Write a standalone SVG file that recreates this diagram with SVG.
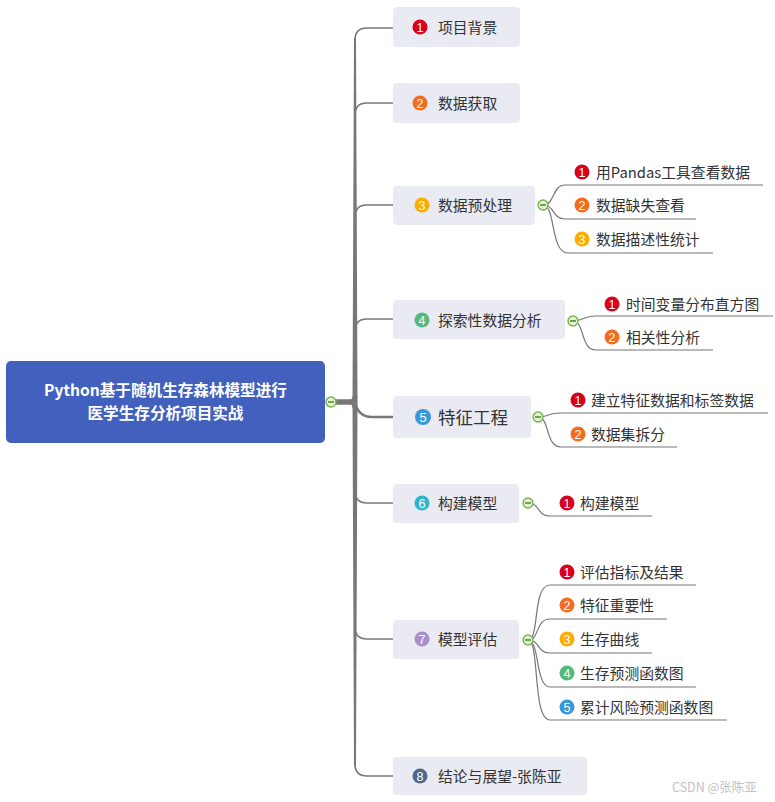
<svg xmlns="http://www.w3.org/2000/svg" width="775" height="802" viewBox="0 0 775 802">
<style>
text{font-family:"Noto Sans CJK SC","Microsoft YaHei",sans-serif;}
.node{fill:#E9EAF2;}
.lbl{font-size:14.8px;fill:#333;}
.num{font-size:12.5px;fill:#fff;text-anchor:middle;font-family:"Liberation Sans",Arial,sans-serif;}
.br{fill:none;stroke:#777;stroke-width:1.6;}
.sub{fill:none;stroke:#777;stroke-width:1.2;}
.col circle{fill:#E4F1D6;stroke:#78B347;stroke-width:1.4;}
.col line{stroke:#3E7E22;stroke-width:1.4;}
</style>
<rect width="775" height="802" fill="#fff"/>
<g id="connectors">
  <polygon points="352.5,402 357.5,402 356,38 354,38" fill="#777"/>
  <polygon points="352.5,402 357.5,402 356,766 354,766" fill="#777"/>
  <path d="M336 402 H350 Q355 402 355 396" fill="none" stroke="#777" stroke-width="5"/>
  <path d="M336 402 H350 Q355 402 355 408" fill="none" stroke="#777" stroke-width="5"/>
  <path class="br" d="M355 40 Q355 28 367 28 H393"/>
  <path class="br" d="M355 115 Q355 103 367 103 H393"/>
  <path class="br" d="M355 217 Q355 205 367 205 H393"/>
  <path class="br" d="M355 331 Q355 319 367 319 H393"/>
  <path d="M355 402 Q358 417 372 417 H393" fill="none" stroke="#777" stroke-width="2.4"/>
  <path class="br" d="M355 491 Q355 503 367 503 H393"/>
  <path class="br" d="M355 627 Q355 639 367 639 H393"/>
  <path class="br" d="M355 764 Q355 776 367 776 H393"/>
  <path class="sub" d="M543 205 C555 205 552 185 565 185 H763"/>
  <path class="sub" d="M543 205 C555 205 552 219 565 219 H696"/>
  <path class="sub" d="M543 205 C556 205 550 253 568 253 H713"/>
  <path class="sub" d="M573 321 C585 321 582 316 595 316 H773"/>
  <path class="sub" d="M573 321 C585 321 580 350 596 350 H713"/>
  <path class="sub" d="M538 417 C550 417 547 413 560 413 H768"/>
  <path class="sub" d="M538 417 C550 417 545 447 561 447 H677"/>
  <path class="sub" d="M528 503 C540 503 537 516 550 516 H652"/>
  <path class="sub" d="M528 640 C540 640 532 585 550 585 H696"/>
  <path class="sub" d="M528 640 C540 640 535 619 550 619 H667"/>
  <path class="sub" d="M528 640 C540 640 537 653 550 653 H652"/>
  <path class="sub" d="M528 640 C540 640 535 687 550 687 H696"/>
  <path class="sub" d="M528 640 C540 640 532 720 550 720 H727"/>
</g>
<g id="root">
  <rect x="6" y="361" width="319" height="82" rx="5" fill="#4261BE"/>
  <text x="165.5" y="396" text-anchor="middle" font-size="15.6" font-weight="bold" fill="#fff">Python基于随机生存森林模型进行</text>
  <text x="165.5" y="419" text-anchor="middle" font-size="15.6" font-weight="bold" fill="#fff">医学生存分析项目实战</text>
  <g class="col"><circle cx="331" cy="402" r="5"/><line x1="328" y1="402" x2="334" y2="402"/></g>
</g>
<g id="n1">
  <rect class="node" x="393" y="7" width="127" height="40" rx="4"/>
  <circle cx="420" cy="27" r="7.5" fill="#D9001B"/><text class="num" x="420" y="31.5">1</text>
  <text class="lbl" x="438" y="32.5">项目背景</text>
</g>
<g id="n2">
  <rect class="node" x="393" y="83" width="127" height="40" rx="4"/>
  <circle cx="420" cy="103" r="7.5" fill="#F46C1F"/><text class="num" x="420" y="107.5">2</text>
  <text class="lbl" x="438" y="108.5">数据获取</text>
</g>
<g id="n3">
  <rect class="node" x="393" y="186" width="142" height="39" rx="4"/>
  <circle cx="422" cy="205" r="7.5" fill="#FFAB00"/><text class="num" x="422" y="209.5">3</text>
  <text class="lbl" x="438" y="210.5">数据预处理</text>
  <g class="col"><circle cx="543" cy="205" r="5"/><line x1="540" y1="205" x2="546" y2="205"/></g>
</g>
<g id="n3a">
  <circle cx="582" cy="172" r="7.5" fill="#D9001B"/><text class="num" x="582" y="176.5">1</text>
  <text class="lbl" x="596" y="177.5">用Pandas工具查看数据</text>
</g>
<g id="n3b">
  <circle cx="582" cy="205" r="7.5" fill="#F46C1F"/><text class="num" x="582" y="209.5">2</text>
  <text class="lbl" x="596" y="210.5">数据缺失查看</text>
</g>
<g id="n3c">
  <circle cx="582" cy="239" r="7.5" fill="#FFAB00"/><text class="num" x="582" y="243.5">3</text>
  <text class="lbl" x="596" y="244.5">数据描述性统计</text>
</g>
<g id="n4">
  <rect class="node" x="393" y="300" width="172" height="39" rx="4"/>
  <circle cx="422" cy="320" r="7.5" fill="#55B97C"/><text class="num" x="422" y="324.5">4</text>
  <text class="lbl" x="438" y="325.5">探索性数据分析</text>
  <g class="col"><circle cx="573" cy="321" r="5"/><line x1="570" y1="321" x2="576" y2="321"/></g>
</g>
<g id="n4a">
  <circle cx="612" cy="304" r="7.5" fill="#D9001B"/><text class="num" x="612" y="308.5">1</text>
  <text class="lbl" x="626" y="309.5">时间变量分布直方图</text>
</g>
<g id="n4b">
  <circle cx="612" cy="337" r="7.5" fill="#F46C1F"/><text class="num" x="612" y="341.5">2</text>
  <text class="lbl" x="626" y="342.5">相关性分析</text>
</g>
<g id="n5">
  <rect class="node" x="393" y="396" width="138" height="42" rx="4"/>
  <circle cx="423" cy="417" r="8" fill="#3A96DA"/><text class="num" x="423" y="421.5" style="font-size:13px">5</text>
  <text class="lbl" x="438" y="423.5" style="font-size:17.5px">特征工程</text>
  <g class="col"><circle cx="538" cy="417" r="5"/><line x1="535" y1="417" x2="541" y2="417"/></g>
</g>
<g id="n5a">
  <circle cx="578" cy="400" r="7.5" fill="#D9001B"/><text class="num" x="578" y="404.5">1</text>
  <text class="lbl" x="591" y="405.5">建立特征数据和标签数据</text>
</g>
<g id="n5b">
  <circle cx="578" cy="434" r="7.5" fill="#F46C1F"/><text class="num" x="578" y="438.5">2</text>
  <text class="lbl" x="591" y="439.5">数据集拆分</text>
</g>
<g id="n6">
  <rect class="node" x="393" y="484" width="126" height="39" rx="4"/>
  <circle cx="422" cy="503" r="7.5" fill="#2DB5CF"/><text class="num" x="422" y="507.5">6</text>
  <text class="lbl" x="438" y="508.5">构建模型</text>
  <g class="col"><circle cx="528" cy="503" r="5"/><line x1="525" y1="503" x2="531" y2="503"/></g>
</g>
<g id="n6a">
  <circle cx="567" cy="503" r="7.5" fill="#D9001B"/><text class="num" x="567" y="507.5">1</text>
  <text class="lbl" x="580" y="508.5">构建模型</text>
</g>
<g id="n7">
  <rect class="node" x="393" y="620" width="126" height="39" rx="4"/>
  <circle cx="422" cy="639" r="7.5" fill="#A98ECC"/><text class="num" x="422" y="643.5">7</text>
  <text class="lbl" x="438" y="644.5">模型评估</text>
  <g class="col"><circle cx="528" cy="640" r="5"/><line x1="525" y1="640" x2="531" y2="640"/></g>
</g>
<g id="n7a">
  <circle cx="567" cy="572" r="7.5" fill="#D9001B"/><text class="num" x="567" y="576.5">1</text>
  <text class="lbl" x="580" y="577.5">评估指标及结果</text>
</g>
<g id="n7b">
  <circle cx="567" cy="605" r="7.5" fill="#F46C1F"/><text class="num" x="567" y="609.5">2</text>
  <text class="lbl" x="580" y="610.5">特征重要性</text>
</g>
<g id="n7c">
  <circle cx="567" cy="639" r="7.5" fill="#FFAB00"/><text class="num" x="567" y="643.5">3</text>
  <text class="lbl" x="580" y="644.5">生存曲线</text>
</g>
<g id="n7d">
  <circle cx="567" cy="673" r="7.5" fill="#55B97C"/><text class="num" x="567" y="677.5">4</text>
  <text class="lbl" x="580" y="678.5">生存预测函数图</text>
</g>
<g id="n7e">
  <circle cx="567" cy="707" r="7.5" fill="#3A96DA"/><text class="num" x="567" y="711.5">5</text>
  <text class="lbl" x="580" y="712.5">累计风险预测函数图</text>
</g>
<g id="n8">
  <rect class="node" x="393" y="757" width="194" height="38" rx="4"/>
  <circle cx="420" cy="776" r="7.5" fill="#4D6A8C"/><text class="num" x="420" y="780.5">8</text>
  <text class="lbl" x="438" y="781.5">结论与展望-张陈亚</text>
</g>
<text x="672" y="792" font-size="12.5" fill="#C2C2C2">CSDN @张陈亚</text>
</svg>
